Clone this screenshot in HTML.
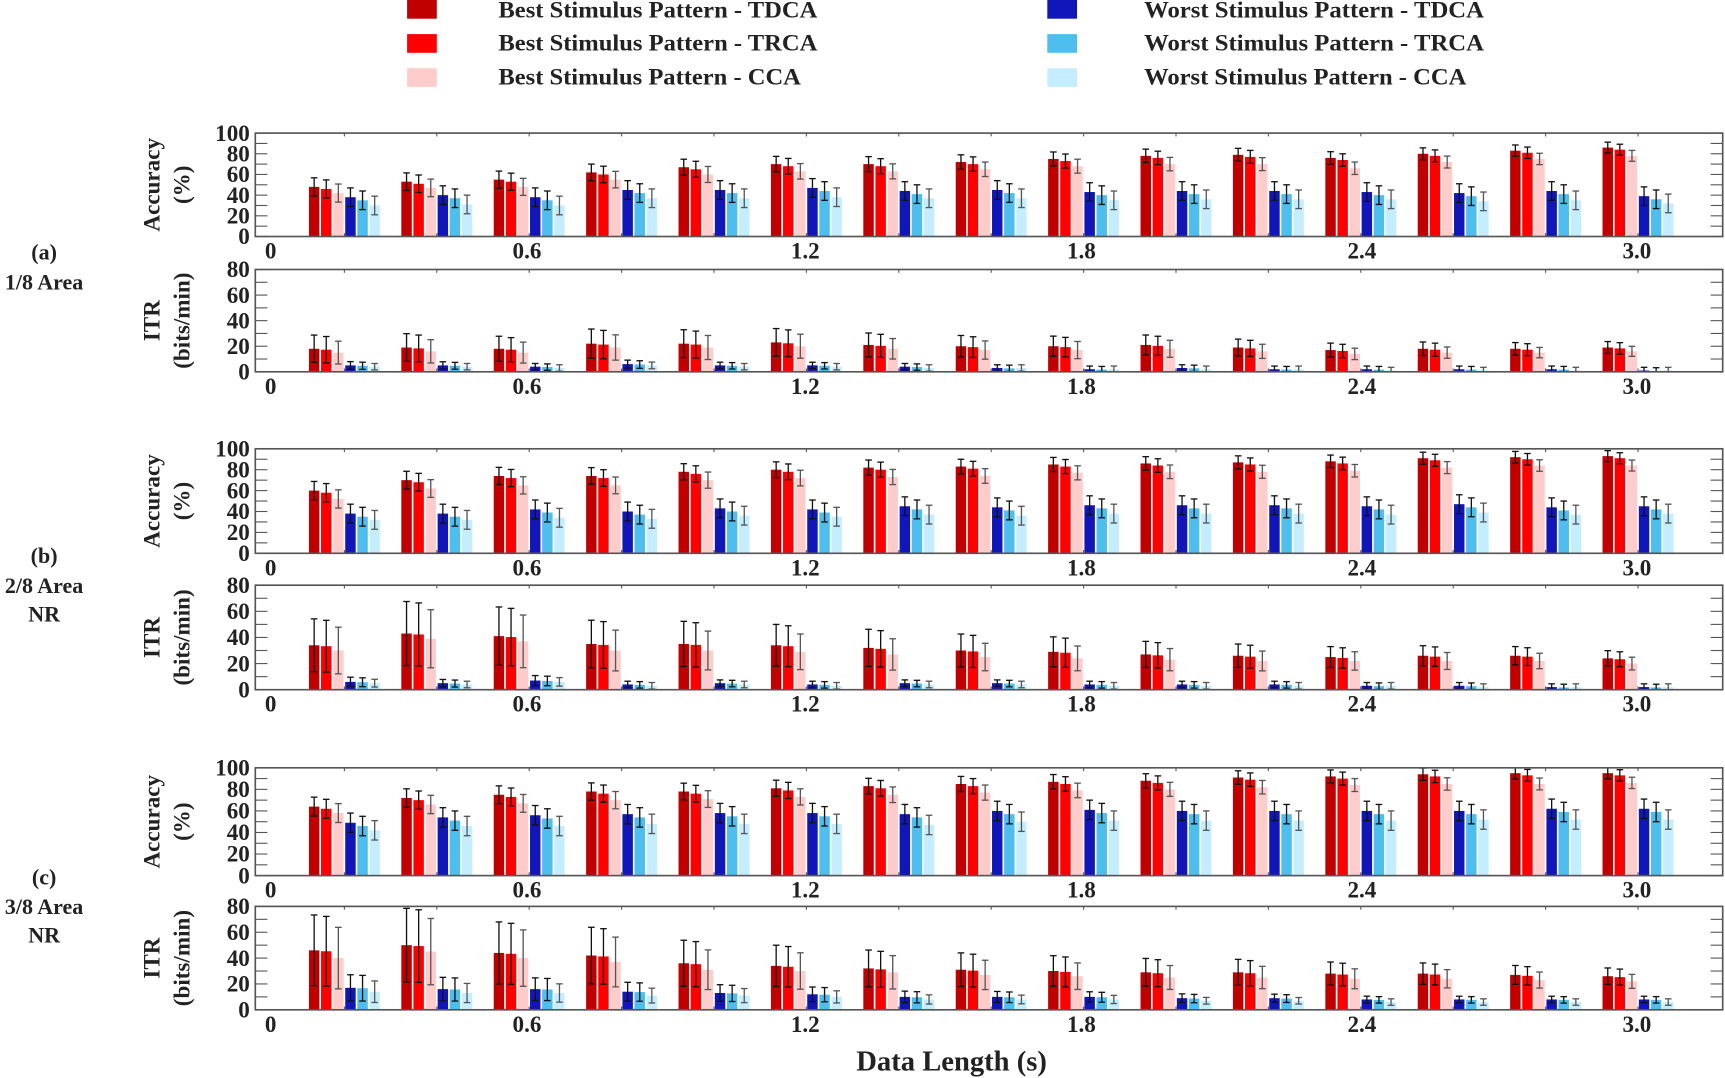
<!DOCTYPE html>
<html><head><meta charset="utf-8"><style>
html,body{margin:0;padding:0;background:#fff;}
svg{display:block;font-family:"Liberation Serif",serif;font-weight:bold;}
</style></head><body>
<svg id="s" width="1725" height="1078" viewBox="0 0 1568 980" xmlns="http://www.w3.org/2000/svg">
<g fill="#222" font-size="21">
<rect x="370" y="0" width="27" height="17" fill="#C00000"/>
<rect x="370" y="31" width="27" height="17" fill="#FF0000"/>
<rect x="370" y="62" width="27" height="17" fill="#FFCCCC"/>
<text x="453" y="16" textLength="290" lengthAdjust="spacingAndGlyphs">Best Stimulus Pattern - TDCA</text>
<text x="453" y="46" textLength="290" lengthAdjust="spacingAndGlyphs">Best Stimulus Pattern - TRCA</text>
<text x="453" y="77" textLength="275" lengthAdjust="spacingAndGlyphs">Best Stimulus Pattern - CCA</text>
<rect x="952" y="0" width="27" height="17" fill="#1016B8"/>
<rect x="952" y="31" width="27" height="17" fill="#4DBEEE"/>
<rect x="952" y="62" width="27" height="17" fill="#C4EEFF"/>
<text x="1040" y="16" textLength="309" lengthAdjust="spacingAndGlyphs">Worst Stimulus Pattern - TDCA</text>
<text x="1040" y="46" textLength="309" lengthAdjust="spacingAndGlyphs">Worst Stimulus Pattern - TRCA</text>
<text x="1040" y="77" textLength="293" lengthAdjust="spacingAndGlyphs">Worst Stimulus Pattern - CCA</text>
</g>
<g font-size="20" fill="#222" text-anchor="middle">
<text x="40" y="236">(a)</text><text x="40" y="263">1/8 Area</text>
<text x="40" y="512">(b)</text><text x="40" y="539">2/8 Area</text><text x="40" y="565">NR</text>
<text x="40" y="804">(c)</text><text x="40" y="831">3/8 Area</text><text x="40" y="857">NR</text>
<text x="865" y="973" font-size="26">Data Length (s)</text>
</g>
<g id="plots"></g>
</svg>
<script>
const NS="http://www.w3.org/2000/svg";
const P=document.getElementById('plots');
function el(t,a,txt){const e=document.createElementNS(NS,t);for(const k in a)e.setAttribute(k,a[k]);if(txt!==undefined)e.textContent=txt;P.appendChild(e);return e;}
const cols=["#C00000","#FF0000","#FFCCCC","#1016B8","#4DBEEE","#C4EEFF"];
function sub(a,d){return a.map(v=>Math.max(v-d,0.5));}
const panels=[
 {top:121,bot:215,max:100,acc:true,
  d:[[48,53,55,62,67,70,70,72,75,78,79,76,80,83,86]],w:[[38,40,38,45,45,47,44,45,43,44,44,43,42,44,39]],
  c:[42,47,48,55,60,63,63,65,68,70,70,66,72,75,78],wc:[30,31,30,37,37,38,37,37,35,36,36,36,34,35,32]},
 {top:245,bot:338,max:80,
  d:[[18,19,18,22,22,23,21,20,20,21,19,17,18,18,19]],w:[[5,5,4,6,5,5,4,3,2,3,2,2,2,2,1]],
  c:[15,16,15,19,19,20,18,17,17,18,16,14,15,15,16],wc:[4,4,3,5,4,4,3,3,2,2,2,1,1,1,1]},
 {top:408,bot:503,max:100,acc:true,
  d:[[60,70,74,74,78,80,82,83,85,86,87,88,91,92,93]],w:[[38,38,42,40,43,42,45,44,46,46,46,45,47,44,45]],
  c:[52,62,65,65,70,72,73,74,77,78,78,79,82,84,84],wc:[32,32,34,33,36,35,37,36,38,38,38,37,39,37,38]},
 {top:532,bot:627,max:80,
  d:[[34,43,41,35,35,34,32,30,29,27,26,25,26,26,24]],w:[[6,5,7,4,5,4,5,5,4,4,4,3,3,2,2]],
  c:[30,39,37,30,30,29,27,25,24,23,22,22,22,22,20],wc:[5,4,6,3,4,3,4,4,3,3,3,3,2,2,2]},
 {top:698,bot:796,max:100,acc:true,
  d:[[64,72,75,78,78,81,83,85,87,88,91,92,94,95,95]],w:[[49,54,56,57,58,58,57,60,61,60,60,60,60,62,62]],
  c:[58,66,67,70,71,73,75,77,79,80,82,84,85,85,86],wc:[42,46,46,48,48,48,47,50,51,51,51,51,52,52,52]},
 {top:824,bot:918,max:80,
  d:[[46,50,44,42,36,34,32,31,30,29,29,28,28,27,26]],w:[[17,16,16,14,13,12,10,10,10,9,9,8,8,8,8]],
  c:[40,45,40,37,31,30,29,27,26,25,25,24,24,23,22],wc:[14,13,13,11,11,10,8,8,8,7,7,6,6,6,6]},
];
const L=232,R=1566;
const X=k=>229+k*84;
panels.forEach(p=>{
  const H=p.bot-p.top, y=v=>p.bot-v/p.max*H;
  const best=p.d[0], worst=p.w[0];
  const series=[best,sub(best,p.acc?2:0.7),p.c,worst,sub(worst,p.acc?3:0.3),p.wc];
  for(let k=1;k<=15;k++){
    const cx=X(k);
    el('line',{x1:cx,x2:cx,y1:p.top,y2:p.top+3,stroke:'#555','stroke-width':1});
    el('line',{x1:cx,x2:cx,y1:p.bot,y2:p.bot-3,stroke:'#555','stroke-width':1});
    for(let s=0;s<6;s++){
      const v=series[s][k-1];
      const bx=cx-2.5*11+s*11;
      el('rect',{x:bx-4.75,y:y(v),width:9.5,height:p.bot-y(v),fill:cols[s]});
      let sd;
      if(p.acc) sd= s<3? (9-k*0.25) : 9;
      else sd= Math.max(v*(0.62-0.025*k),2.5);
      const y1=y(Math.min(v+sd,p.max)),y2=y(Math.max(v-sd,0));
      const ec=(s==2||s==5)?'#555':'#111';
      el('line',{x1:bx,x2:bx,y1:y1,y2:y2,stroke:ec,'stroke-width':1.2});
      el('line',{x1:bx-3,x2:bx+3,y1:y1,y2:y1,stroke:ec,'stroke-width':1.2});
      el('line',{x1:bx-3,x2:bx+3,y1:y2,y2:y2,stroke:ec,'stroke-width':1.2});
    }
  }
  for(let v=0;v<=p.max;v+=10){
    const yy=y(v);
    el('line',{x1:L,x2:L+11,y1:yy,y2:yy,stroke:'#555','stroke-width':1});
    el('line',{x1:R,x2:R-11,y1:yy,y2:yy,stroke:'#555','stroke-width':1});
    if(v%20==0) el('text',{x:L-5,y:yy+7,'text-anchor':'end','font-size':21,fill:'#222'},String(v));
  }
  el('rect',{x:L,y:p.top,width:R-L,height:H,fill:'none',stroke:'#555','stroke-width':1.5});
  const lx=[[246,'0'],[479,'0.6'],[732,'1.2'],[983,'1.8'],[1238,'2.4'],[1488,'3.0']];
  lx.forEach(([x,t])=>el('text',{x:x,y:p.bot+20,'text-anchor':'middle','font-size':21,fill:'#222'},t));
  const cy=(p.top+p.bot)/2;
  const l1=p.acc?'Accuracy':'ITR', l2=p.acc?'(%)':'(bits/min)';
  el('text',{x:0,y:0,'text-anchor':'middle','font-size':21,fill:'#222',transform:`translate(145,${cy}) rotate(-90)`},l1);
  el('text',{x:0,y:0,'text-anchor':'middle','font-size':21,fill:'#222',transform:`translate(172,${cy}) rotate(-90)`},l2);
});
</script>
</body></html>
